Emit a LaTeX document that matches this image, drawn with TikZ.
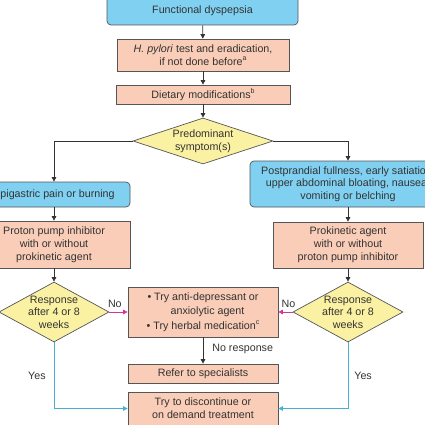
\documentclass[tikz,border=0pt]{standalone}
\usepackage{fontspec}
\setmainfont{Liberation Sans}
\usetikzlibrary{shapes.geometric,arrows.meta}
\definecolor{bluefill}{HTML}{80D0F2}
\definecolor{salmonfill}{HTML}{F9CDB7}
\definecolor{yellowfill}{HTML}{FBF1A3}
\definecolor{edgegray}{HTML}{555555}
\definecolor{txtgray}{HTML}{333333}
\definecolor{magentaarr}{HTML}{D6339C}
\definecolor{cyanarr}{HTML}{48AFD4}
\newcommand{\sups}[1]{\raisebox{4.5pt}{\fontsize{7}{7}\selectfont #1}}
\begin{document}
\begin{tikzpicture}[x=1pt,y=-1pt,
  every node/.style={font=\fontsize{10.7}{13}\selectfont, text=txtgray},
  bluebox/.style={draw=edgegray, line width=0.7pt, fill=bluefill, rounded corners=4pt, inner sep=0pt, align=center},
  salbox/.style={draw=edgegray, line width=0.7pt, fill=salmonfill, inner sep=0pt, align=center},
  dia/.style={draw=edgegray, line width=0.7pt, fill=yellowfill, shape=diamond, inner sep=0pt},
  conn/.style={draw=txtgray, line width=0.7pt, -{Triangle[length=4.5pt,width=4.5pt]}},
  noarr/.style={draw=magentaarr, line width=0.7pt, -{Triangle[length=4.5pt,width=4.5pt]}},
  yesarr/.style={draw=cyanarr, line width=0.7pt, -{Triangle[length=4.5pt,width=4.5pt]}},
  lbl/.style={inner sep=1pt}
]
\useasboundingbox (0,0) rectangle (425,425);
\clip (0,0) rectangle (425,425);

% top column
\node[bluebox, minimum width=191pt, minimum height=29pt] (fd) at (202.5,10.5) {Functional dyspepsia};
\node[salbox, minimum width=172pt, minimum height=32pt] (hp) at (203,55) {\textit{H. pylori} test and eradication,\\if not done before\sups{a}};
\node[salbox, minimum width=174pt, minimum height=19pt] (dm) at (203,94.5) {Dietary modifications\sups{b}};
\node[dia, minimum width=140pt, minimum height=46pt] (pd) at (203,141) {};
\node[align=center, font=\fontsize{10.7}{12.5}\selectfont] (pdt) at (pd.center) {Predominant\\symptom(s)};

% branches
\node[bluebox, minimum width=152pt, minimum height=25pt] (ep) at (54,194.5) {Epigastric pain or burning};
\node[bluebox, minimum width=196pt, minimum height=46pt, font=\fontsize{10.7}{12.5}\selectfont] (pp) at (348,184) {Postprandial fullness, early satiation,\\upper abdominal bloating, nausea,\\vomiting or belching};
\node[salbox, minimum width=152pt, minimum height=47pt] (ppi) at (54,244.5) {Proton pump inhibitor\\with or without\\prokinetic agent};
\node[salbox, minimum width=150pt, minimum height=46pt] (pk) at (348,245) {Prokinetic agent\\with or without\\proton pump inhibitor};

\node[dia, minimum width=110pt, minimum height=60pt] (rl) at (54,312) {};
\node[align=center, font=\fontsize{10.7}{12.5}\selectfont] (rlt) at (rl.center) {Response\\after 4 or 8\\weeks};
\node[dia, minimum width=110pt, minimum height=60pt] (rr) at (348,312) {};
\node[align=center, font=\fontsize{10.7}{12.5}\selectfont] (rrt) at (rr.center) {Response\\after 4 or 8\\weeks};

% middle column
\node[salbox, minimum width=150pt, minimum height=50pt, font=\fontsize{10.7}{14.5}\selectfont] (tr) at (203,312) {\textbullet\ Try anti-depressant or\\\hspace{9pt}anxiolytic agent\\\textbullet\ Try herbal medication\sups{c}};
\node[salbox, minimum width=150pt, minimum height=19pt] (rs) at (203,373.5) {Refer to specialists};
\node[salbox, minimum width=150pt, minimum height=33pt] (td) at (203,408.5) {Try to discontinue or\\on demand treatment};

% connectors
\draw[conn] (fd) -- (hp);
\draw[conn] (hp) -- (dm);
\draw[conn] (dm) -- (pd.north);
\draw[conn] (pd.west) -| (ep.north);
\draw[conn] (pd.east) -| (pp.north);
\draw[conn] (ep) -- (ppi);
\draw[conn] (pp) -- (pk);
\draw[conn] (ppi) -- (rl.north);
\draw[conn] (pk) -- (rr.north);
\draw[noarr] (rl.east) -- node[lbl, above=3pt, pos=0.3] {No} (tr.west);
\draw[noarr] (rr.west) -- node[lbl, above=3pt, pos=0.3] {No} (tr.east);
\draw[conn] (tr) -- node[lbl, right=8pt, pos=0.45] {No response} (rs);
\draw[yesarr] (rl.south) |- node[lbl, left=7pt, pos=0.25] {Yes} (td.west);
\draw[yesarr] (rr.south) |- node[lbl, right=5pt, pos=0.25] {Yes} (td.east);
\end{tikzpicture}
\end{document}
